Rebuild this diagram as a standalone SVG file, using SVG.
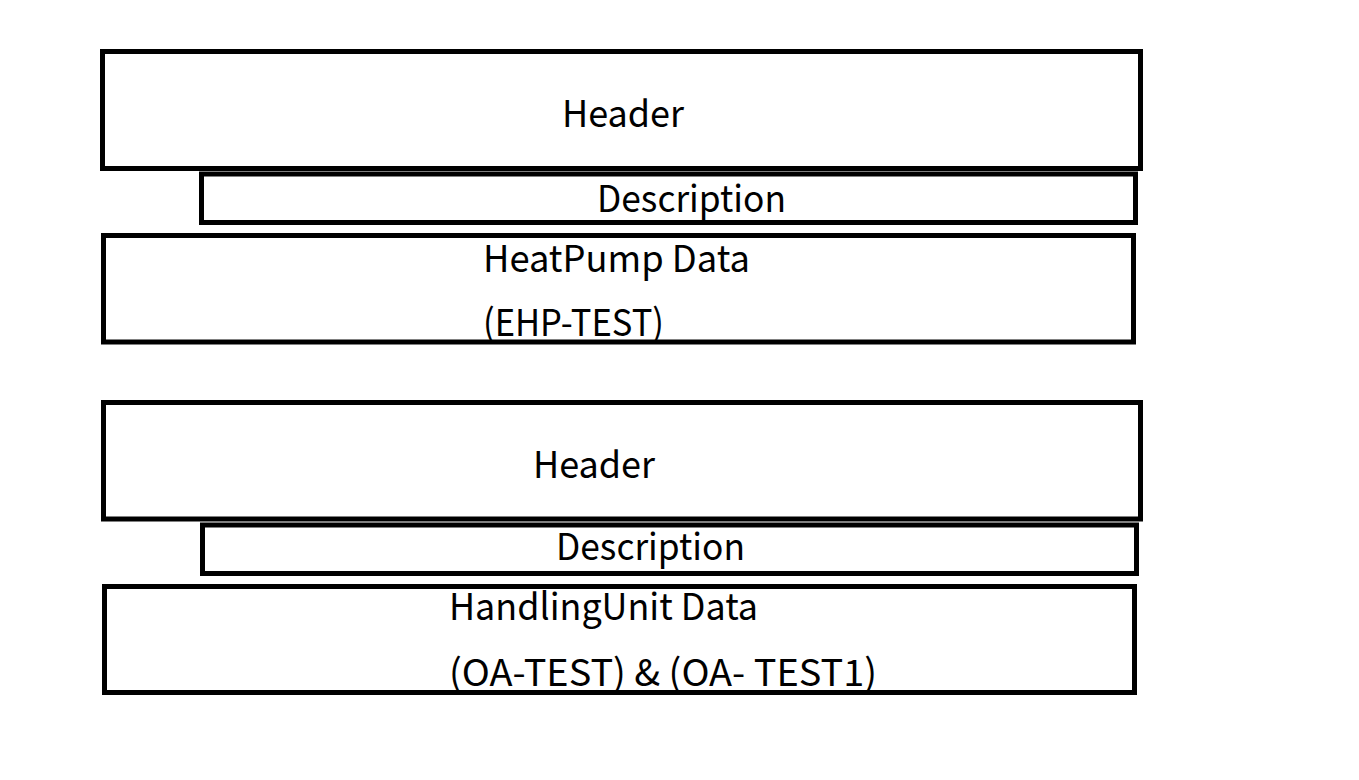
<svg xmlns="http://www.w3.org/2000/svg" width="1359" height="780" viewBox="0 0 1359 780">
<style>
.box{fill:none;stroke:#000;stroke-width:5}
.t{font-family:"Noto Sans CJK KR","Open Sans",sans-serif;font-size:37px;fill:#000}
</style>
<rect width="1359" height="780" fill="#fff"/>
<g id="header1"><rect class="box" x="102.5" y="51.5" width="1038" height="117"/><text class="t" x="562" y="127" textLength="122" lengthAdjust="spacingAndGlyphs">Header</text></g>
<g id="description1"><rect class="box" x="201.5" y="174" width="934" height="48.5"/><text class="t" x="597" y="212" textLength="189" lengthAdjust="spacingAndGlyphs">Description</text></g>
<g id="heatpump"><rect class="box" x="103.5" y="235.5" width="1030" height="106.5"/><text class="t" x="483" y="272" textLength="267" lengthAdjust="spacingAndGlyphs">HeatPump Data</text><text class="t" x="483" y="336" textLength="181" lengthAdjust="spacingAndGlyphs">(EHP-TEST)</text></g>
<g id="header2"><rect class="box" x="103.5" y="402.5" width="1037" height="116.5"/><text class="t" x="533" y="478" textLength="122" lengthAdjust="spacingAndGlyphs">Header</text></g>
<g id="description2"><rect class="box" x="202.5" y="525" width="934" height="48.5"/><text class="t" x="556" y="560" textLength="189" lengthAdjust="spacingAndGlyphs">Description</text></g>
<g id="handlingunit"><rect class="box" x="104.5" y="586.5" width="1030" height="106"/><text class="t" x="449" y="620" textLength="309" lengthAdjust="spacingAndGlyphs">HandlingUnit Data</text><text class="t" x="449" y="686" textLength="428" lengthAdjust="spacingAndGlyphs">(OA-TEST) &amp; (OA- TEST1)</text></g>
<g id="connectors"></g>
</svg>
